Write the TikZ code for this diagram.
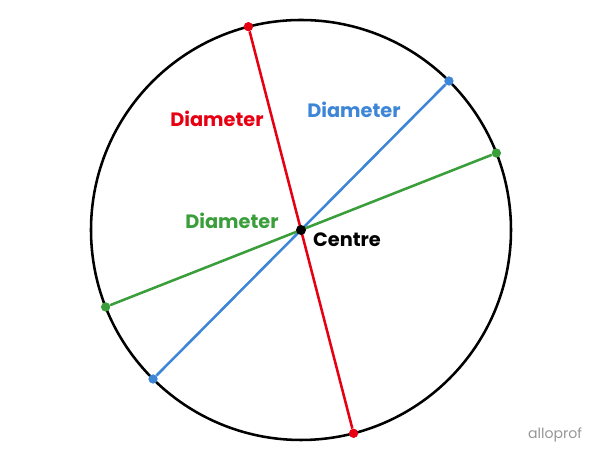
\documentclass[tikz,border=0pt]{standalone}
\usepackage{fontspec}
\setmainfont{Poppins}
\usetikzlibrary{calc}
\definecolor{diared}{RGB}{230,0,18}
\definecolor{diablue}{RGB}{61,133,214}
\definecolor{diagreen}{RGB}{58,158,58}
\definecolor{logogray}{RGB}{150,150,150}
\tikzset{
  dot/.style={circle,fill=#1,inner sep=0pt,minimum size=0.18cm},
  diam/.style={line width=1.45pt,#1},
  lbl/.style={font=\fontsize{11}{13}\selectfont\bfseries,text=#1}
}
\begin{document}
\begin{tikzpicture}[x=0.02cm,y=0.02cm]
\useasboundingbox (0,0) rectangle (600,459);
\coordinate (O) at (301,229);
%circle
\draw[line width=1.45pt] (O) circle (210);
%end points
\path (O) ++(104.5:210) node[dot=diared] (r1) {};
\path (O) ++(-75.5:210) node[dot=diared] (r2) {};
\path (O) ++(45.2:210) node[dot=diablue] (b1) {};
\path (O) ++(-134.8:210) node[dot=diablue] (b2) {};
\path (O) ++(21.5:210) node[dot=diagreen] (g1) {};
\path (O) ++(-158.5:210) node[dot=diagreen] (g2) {};
%diameters
\draw[diam=diablue] (b2)--(b1);
\draw[diam=diagreen] (g2)--(g1);
\draw[diam=diared] (r1)--(r2);
\foreach \p/\c in {r1/diared,r2/diared,b1/diablue,b2/diablue,g1/diagreen,g2/diagreen}{
\node[dot=\c] at (\p) {};
}
\node[dot=black,minimum size=0.2cm] (c) at (O) {};
%labels
\node[lbl=diared] (lr) at (217,340) {Diameter};
\node[lbl=diablue] (lb) at (354,349) {Diameter};
\node[lbl=diagreen] (lg) at (232,238) {Diameter};
\node[lbl=black,anchor=west] (lc) at (307,219) {Centre};
\node[font=\fontsize{8}{10}\selectfont,text=logogray] (logo) at (555,24) {alloprof};
\end{tikzpicture}
\end{document}
